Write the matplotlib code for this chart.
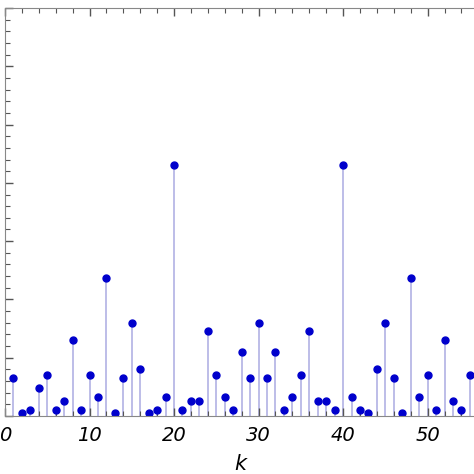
import numpy as np
import matplotlib
matplotlib.use("Agg")
from matplotlib import pyplot as plt
from matplotlib.ticker import MultipleLocator

# values (y axis units, labels cropped in the reference)
k = list(range(1, 56))
values = [0.65, 0.05, 0.10, 0.48, 0.70, 0.10, 0.26, 1.31, 0.10, 0.70,
          0.33, 2.36, 0.05, 0.65, 1.60, 0.81, 0.05, 0.10, 0.33, 4.31,
          0.10, 0.26, 0.26, 1.45, 0.70, 0.33, 0.10, 1.10, 0.65, 1.60,
          0.65, 1.10, 0.10, 0.33, 0.70, 1.45, 0.26, 0.26, 0.10, 4.31,
          0.33, 0.10, 0.05, 0.81, 1.60, 0.65, 0.05, 2.36, 0.33, 0.70,
          0.10, 1.31, 0.26, 0.10, 0.70]
xticks = [0, 10, 20, 30, 40, 50]

fig = plt.figure(figsize=(4.74, 4.74), dpi=100)
ax = fig.add_axes([5 / 474, 58 / 474, 0.995, 408 / 474])

ax.vlines(k, 0, values, color='#b8b8e6', linewidth=1.3, zorder=1)
ax.plot(k, values, 'o', color='#0000cc', markersize=5, zorder=2)

ax.set_xlim(0, 55.8)
ax.set_ylim(0, 7)
ax.set_xticks(xticks)
ax.xaxis.set_minor_locator(MultipleLocator(2))
ax.yaxis.set_major_locator(MultipleLocator(1))
ax.yaxis.set_minor_locator(MultipleLocator(0.2))
ax.tick_params(which='both', direction='in', top=True, right=False,
               color='#555555', labelleft=False)
ax.tick_params(which='major', length=6, width=1)
ax.tick_params(which='minor', length=3.5, width=0.8)
ax.tick_params(axis='x', labelsize=14, pad=7)
for lab in ax.get_xticklabels():
    lab.set_fontstyle('italic')

for s in ['left', 'bottom', 'top']:
    ax.spines[s].set_color('#888888')
ax.spines['right'].set_visible(False)

ax.set_xlabel('k', fontsize=15, fontstyle='italic', labelpad=7)

fig.savefig('out.png', dpi=100)
